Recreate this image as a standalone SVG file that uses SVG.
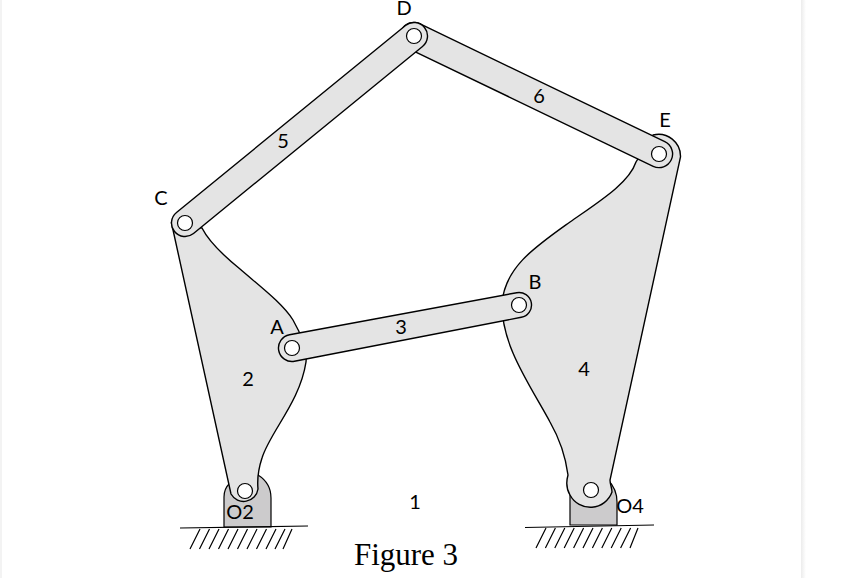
<svg xmlns="http://www.w3.org/2000/svg" width="852" height="578" viewBox="0 0 852 578">
<style>
.b{fill:#e4e4e4;stroke:#000;stroke-width:1.4}
.s{fill:#cccbcc;stroke:#000;stroke-width:1.2}
.p{fill:#fff;stroke:#000;stroke-width:1.2}
.l{stroke:#000;stroke-width:1.2;fill:none}
text{font-family:Lato,"Open Sans",sans-serif;font-size:20px;fill:#000;text-anchor:middle}
</style>
<defs><linearGradient id="sh"><stop offset="0" stop-color="#ececec"/><stop offset="1" stop-color="#fff"/></linearGradient></defs>
<rect width="852" height="578" fill="#fff"/>
<rect x="801" y="0" width="5" height="578" fill="url(#sh)"/>
<rect x="0" y="0" width="2" height="578" fill="#f3f3f3"/>
<g id="ground-o2">
<path class="s" d="M224 527V497C224 490 226 487 229 484L258 475C266 480 271 488 271 498V527Z"/>
<path class="l" d="M180 528L308 526"/>
<path class="l" d="M190 549l10-20M199.500 549l10-20M209 549l10-20M218.500 549l10-20M228 549l10-20M237.500 549l10-20M247 549l10-20M256.500 549l10-20M266 549l10-20M275 549l10-20M283 549l9-20"/>
</g>
<g id="ground-o4">
<path class="s" d="M570 525V480H608C614 486 617 494 617 502V525Z"/>
<path class="l" d="M525 527.500L654 525"/>
<path class="l" d="M536 548l10-20M545.400 548l10-20M554.800 548l10-20M564.200 548l10-20M573.600 548l10-20M583 548l10-20M592.400 548l10-20M601.800 548l10-20M611.200 548l10-20M620.600 548l10-20M630 548l8-20"/>
</g>
<g id="body-2">
<path class="b" d="M171.500 223L231 494A14.500 14.500 0 0 0 258 489C257 478 258 470 262 458C270 432 300 402 306 362C307 352 302 335 293 320C283 304 262 288 240 269C224 256 209 242 202 228Z"/>
<text x="248" y="386">2</text>
</g>
<g id="body-4">
<path class="b" d="M680.500 157A22 22 0 0 0 653 135L636 162C629 183 600 201 570 222C535 247 505 267 502 303C501 345 530 385 550 422C562 443 566 460 568 475C566 482 567 490 570 495A23 23 0 0 0 612 492C612 488 610 484 610 480Z"/>
<text x="584" y="376">4</text>
</g>
<g id="link-6">
<path class="b" d="M419.600 23.700L664.800 141.700A13.500 13.500 0 0 1 653.200 166.300L408 48.300A13.500 13.500 0 0 1 419.600 23.700Z"/>
<text x="539" y="103">6</text>
</g>
<g id="link-5">
<path class="b" d="M176.500 212.500L405.500 25.500A13.500 13.500 0 0 1 422.500 46.500L193.500 233.500A13.500 13.500 0 0 1 176.500 212.500Z"/>
<text x="283" y="148">5</text>
</g>
<g id="link-3">
<path class="b" d="M289.500 334.700L516.700 292.700A12.500 12.500 0 0 1 521.300 317.300L294.500 361.300A13.500 13.500 0 0 1 289.500 334.700Z"/>
<text x="401" y="334">3</text>
</g>
<g id="joint-a"><circle class="p" cx="292" cy="348" r="7.500"/><text x="277" y="334">A</text></g>
<g id="joint-b"><circle class="p" cx="519" cy="305" r="7.500"/><text x="535" y="289">B</text></g>
<g id="joint-c"><circle class="p" cx="185" cy="223" r="7.500"/><text x="161" y="205">C</text></g>
<g id="joint-d"><circle class="p" cx="414" cy="36" r="7.500"/><text x="404" y="14.500">D</text></g>
<g id="joint-e"><circle class="p" cx="659" cy="154" r="7.500"/><text x="665" y="127">E</text></g>
<g id="joint-o2"><circle class="p" cx="245" cy="491" r="7.500"/><text x="240" y="519">O2</text></g>
<g id="joint-o4"><circle class="p" cx="591" cy="490" r="7.500"/><text x="630" y="513">O4</text></g>
<text x="415" y="509">1</text>
<text x="406" y="565" style="font-family:'Liberation Serif',serif;font-size:31px">Figure 3</text>
</svg>
